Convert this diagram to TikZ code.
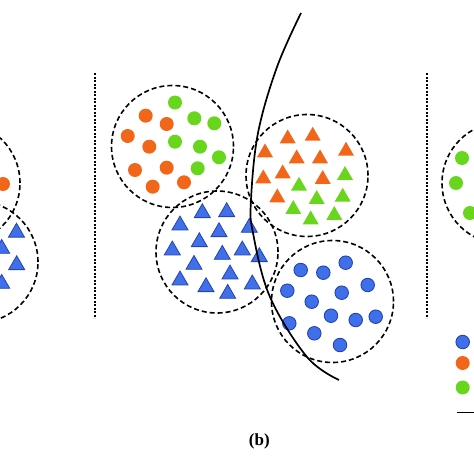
\documentclass[tikz,border=0pt]{standalone}
\usepackage{fontspec}
\setmainfont{Liberation Serif}
\usetikzlibrary{shapes.geometric}
\definecolor{dorange}{HTML}{F26619}
\definecolor{dgreen}{HTML}{68D61C}
\definecolor{dblue}{HTML}{3F70EA}
\definecolor{dblueb}{HTML}{2544B0}
\tikzset{
  odot/.style={circle,fill=dorange,minimum size=14pt,inner sep=0pt},
  gdot/.style={circle,fill=dgreen,minimum size=14pt,inner sep=0pt},
  bdot/.style={circle,fill=dblue,draw=dblueb,line width=0.9pt,minimum size=13.5pt,inner sep=0pt},
  tri/.style={regular polygon,regular polygon sides=3,minimum size=18.5pt,inner sep=0pt,yshift=-2pt},
  otri/.style={tri,fill=dorange},
  gtri/.style={tri,fill=dgreen},
  btri/.style={tri,fill=dblue,draw=dblueb,line width=0.8pt},
  clus/.style={circle,draw=black,line width=1.6pt,dash pattern=on 5pt off 3pt,minimum size=122pt,inner sep=0pt},
  sep/.style={draw=black,line width=1.7pt,dash pattern=on 2.2pt off 1.3pt},
  bound/.style={draw=black,line width=1.7pt}
}
\begin{document}
\begin{tikzpicture}[x=1pt,y=-1pt]
\useasboundingbox (0,0) rectangle (474,474);
\clip (0,0) rectangle (474,474);
% cluster circles
\node[clus] (L1) at (-41,183) {};
\node[clus] (L2) at (-23,262) {};
\node[clus] (M1) at (172.5,146.5) {};
\node[clus] (M2) at (217,252) {};
\node[clus] (M3) at (307,175.5) {};
\node[clus] (M4) at (332.5,301.5) {};
\node[clus] (R1) at (503,183) {};
% separators
\coordinate (s1a) at (95,73); \coordinate (s1b) at (95,318);
\coordinate (s2a) at (427,73); \coordinate (s2b) at (427,318);
\draw[sep] (s1a) -- (s1b);
\draw[sep] (s2a) -- (s2b);
% left panel
\node[odot] (lo1) at (3,184) {};
\foreach \p [count=\i] in {(16.5,230.5),(1.7,246.7),(16.7,263),(1.7,281.7)}
  \node[btri] (lt\i) at \p {};
% middle cluster 1
\foreach \p [count=\i] in {(145.7,115.7),(166.7,124),(127.7,136),(149.3,146.7),(135,170),(166.7,167.7),(152.7,186.7),(184,182.3)}
  \node[odot] (mo\i) at \p {};
\foreach \p [count=\i] in {(175,102.5),(194.3,118.3),(214.3,123.3),(175,141.7),(200,146.7),(219,157.3),(197.7,168.3)}
  \node[gdot] (mg\i) at \p {};
% middle cluster 2 (blue triangles)
\foreach \p [count=\i] in {(202.3,211),(226.7,210),(180,223.3),(219,230),(249.3,225.7),(199.3,240),(172.3,248.3),(222.3,252.7),(242.3,248.3),(259.3,255),(194,262.7),(230,272.3),(180,278.3),(206,285),(252.3,282.3),(227.7,291.7)}
  \node[btri] (bt\i) at \p {};
% middle cluster 3 (orange/green triangles)
\foreach \p [count=\i] in {(287.7,136.7),(312.7,134),(265,150.7),(296.7,156.7),(320,156.7),(346,149),(263.3,176.7),(282.7,171.7),(322.7,177.3),(277.3,195.7)}
  \node[otri] (ot\i) at \p {};
\foreach \p [count=\i] in {(345,173.3),(299,184),(316.7,197.3),(342.7,195),(293.3,207.3),(334.3,213.3),(310.7,217.7)}
  \node[gtri] (gt\i) at \p {};
% middle cluster 4 (blue dots)
\foreach \p [count=\i] in {(300.7,270),(323.3,272.7),(345.7,262.7),(287.3,290.7),(311.7,301.7),(341.7,292.7),(367.7,285),(331,315.7),(355.7,320),(375.7,316.7),(289.3,323.3),(314.3,333.3),(340,345)}
  \node[bdot] (bd\i) at \p {};
% boundary curve
\coordinate (c0) at (301,13);
\coordinate (c7) at (339,380);
\draw[bound] plot[smooth,tension=0.6] coordinates {(301,13) (277,67) (258,133) (251,200) (253,233) (270,297) (307,357) (339,380)};
% right panel
\foreach \p [count=\i] in {(462,158),(456,183),(470,213)}
  \node[gdot] (rg\i) at \p {};
% legend
\node[bdot] (lgb) at (462.7,342) {};
\node[odot] (lgo) at (462.7,363) {};
\node[gdot] (lgg) at (462.7,387.5) {};
\coordinate (lla) at (457,412.5); \coordinate (llb) at (474,412.5);
\draw[black,line width=1.7pt] (lla) -- (llb);
% caption
\node[font=\fontsize{17}{19}\selectfont\bfseries,inner sep=0pt] (cap) at (259.3,441) {(b)};
\end{tikzpicture}
\end{document}
